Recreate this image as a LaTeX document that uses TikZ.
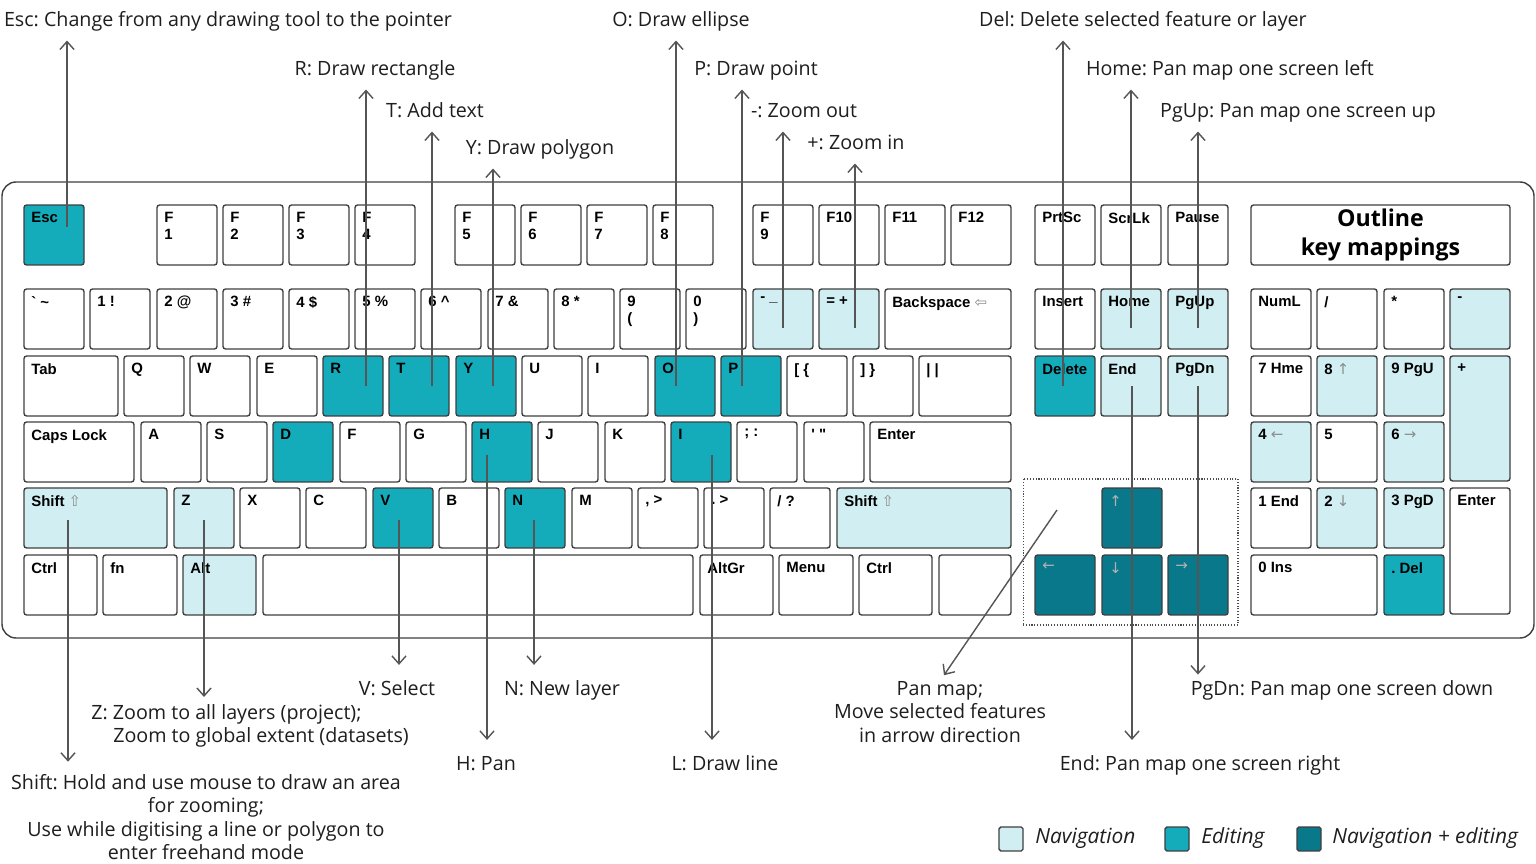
\documentclass[tikz,border=0pt]{standalone}
\usepackage{fontspec}
\setmainfont{Open Sans}
\newfontfamily\keyfont{Liberation Sans}
\newfontfamily\symfont{DejaVu Sans}
\usetikzlibrary{arrows.meta,positioning,calc}
\frenchspacing

\definecolor{cNav}{HTML}{D1EFF3}
\definecolor{cEdit}{HTML}{14ACBB}
\definecolor{cBoth}{HTML}{09788A}
\definecolor{keyLine}{HTML}{3F3F3F}
\definecolor{lineC}{HTML}{555555}
\definecolor{txtC}{HTML}{1E1E1E}

% small arrow glyphs on the keys
\newcommand{\kbsym}[1]{{\symfont\mdseries\color{black!45}#1}}
\newcommand{\kbsymlt}[1]{{\symfont\mdseries\color{white!70!black}#1}}

\tikzset{
    key/.style={draw=keyLine, line width=0.8pt, rounded corners=1.5pt, minimum height=1.2cm, inner sep=0pt, outer sep=0pt},
    keylabel/.style={anchor=north west, inner xsep=4pt, inner ysep=4pt, align=left, text=black,
        font=\keyfont\bfseries\fontsize{8.5}{9.4}\selectfont},
    board/.style={draw=keyLine, line width=0.8pt, rounded corners=8pt},
    padbox/.style={draw=black!70, densely dotted, line width=0.6pt, inner sep=0pt},
    note/.style={font=\fontsize{11.2}{13.3}\selectfont, text=txtC, inner sep=0pt, align=center},
    note1/.style={note, text height=0.75em, text depth=0.25em},
    callout/.style={draw=lineC, line width=0.8pt, -{Straight Barb[length=4.5pt,width=8pt]}},
    callup/.style={callout, shorten >=5pt},
    calldown/.style={callout, shorten >=10pt},
    legbox/.style={key, minimum width=0.48cm, minimum height=0.48cm, rounded corners=1pt},
    legtext/.style={font=\itshape\fontsize{11.9}{13}\selectfont, text=txtC, inner sep=0pt, text height=0.75em, text depth=0.25em}
}

\begin{document}
\begin{tikzpicture}[x=0.02cm, y=-0.02cm]
    \useasboundingbox (0,0) rectangle (1536,864);
    \fill[white] (0,0) rectangle (1536,864);

    % Keyboard frame
    \draw[board] (2,182) rectangle (1534,638);

    % Function row
    \foreach \x/\w/\col/\nm/\lab in {24/60/cEdit/kEsc/Esc, 157/60/white/kFa/{F\\1}, 223/60/white/kFb/{F\\2},
        289/60/white/kFc/{F\\3}, 355/60/white/kFd/{F\\4}, 455/60/white/kFe/{F\\5}, 521/60/white/kFf/{F\\6},
        587/60/white/kFg/{F\\7}, 653/60/white/kFh/{F\\8}, 753/60/white/kFi/{F\\9}, 819/60/white/kFj/F10,
        885/60/white/kFk/F11, 951/60/white/kFl/F12, 1035/60/white/kPrt/PrtSc, 1101/60/white/kScr/ScrLk,
        1168/60/white/kPause/Pause}
        \node[key, fill=\col, minimum width=\w*0.02cm, label={[keylabel]north west:{\lab}}] (\nm) at (\x+\w/2,235) {};

    % Number row
    \foreach \x/\w/\col/\nm/\lab in {24/60/white/kGrave/{` \textasciitilde}, 90/60/white/kOne/{1 !},
        157/60/white/kTwo/{2 @}, 223/60/white/kThree/{3 \#}, 289/60/white/kFour/{4 \$}, 355/60/white/kFive/{5 \%},
        421/60/white/kSix/{6 \textasciicircum}, 488/60/white/kSeven/{7 \&}, 554/60/white/kEight/{8 *},
        620/60/white/kNine/{9\\(}, 686/60/white/kZero/{0\\)}, 753/60/cNav/kMin/{- \_}, 819/60/cNav/kEq/{= +},
        885/126/white/kBack/{Backspace \kbsym{⇦}}, 1035/60/white/kIns/Insert, 1101/60/cNav/kHome/Home,
        1168/60/cNav/kPgUp/PgUp, 1251/60/white/kNumL/NumL, 1317/60/white/kDiv/{/}, 1384/60/white/kMul/{*},
        1450/60/cNav/kSub/{-}}
        \node[key, fill=\col, minimum width=\w*0.02cm, label={[keylabel]north west:{\lab}}] (\nm) at (\x+\w/2,319) {};

    % Top letter row
    \foreach \x/\w/\col/\nm/\lab in {24/94/white/kTab/Tab, 124/60/white/kQ/Q, 190/60/white/kW/W, 257/60/white/kE/E,
        323/60/cEdit/kR/R, 389/60/cEdit/kT/T, 456/60/cEdit/kY/Y, 522/60/white/kU/U, 588/60/white/kI/I,
        655/60/cEdit/kO/O, 721/60/cEdit/kP/P, 787/60/white/kLBr/{[ \{}, 853/60/white/kRBr/{] \}},
        919/92/white/kPipe/{| |}, 1035/60/cEdit/kDel/Delete, 1101/60/cNav/kEnd/End, 1168/60/cNav/kPgDn/PgDn,
        1251/60/white/kNSeven/{7 Hme}, 1317/60/cNav/kNEight/{8 \kbsym{↑}}, 1384/60/cNav/kNNine/{9 PgU}}
        \node[key, fill=\col, minimum width=\w*0.02cm, label={[keylabel]north west:{\lab}}] (\nm) at (\x+\w/2,386) {};

    % Home row
    \foreach \x/\w/\col/\nm/\lab in {24/110/white/kCaps/{Caps Lock}, 141/60/white/kA/A, 207/60/white/kS/S,
        273/60/cEdit/kD/D, 340/60/white/kF/F, 406/60/white/kG/G, 472/60/cEdit/kH/H, 538/60/white/kJ/J,
        605/60/white/kK/K, 671/60/cEdit/kL/I, 737/60/white/kSemi/{; :}, 804/60/white/kQuote/{' "},
        870/141/white/kEnter/Enter, 1251/60/cNav/kNFour/{4 \kbsym{←}}, 1317/60/white/kNFive/5,
        1384/60/cNav/kNSix/{6 \kbsym{→}}}
        \node[key, fill=\col, minimum width=\w*0.02cm, label={[keylabel]north west:{\lab}}] (\nm) at (\x+\w/2,452) {};

    % Bottom letter row
    \foreach \x/\w/\col/\nm/\lab in {24/143/cNav/kShL/{Shift \kbsym{⇧}}, 174/60/cNav/kZ/Z, 240/60/white/kX/X,
        306/60/white/kC/C, 373/60/cEdit/kV/V, 439/60/white/kB/B, 505/60/cEdit/kN/N, 572/60/white/kM/M,
        638/60/white/kComma/{, >}, 704/60/white/kDot/{. >}, 770/60/white/kSlash/{/ ?},
        837/174/cNav/kShR/{Shift \kbsym{⇧}}, 1102/60/cBoth/kUp/{\kbsymlt{↑}}, 1251/60/white/kNOne/{1 End},
        1317/60/cNav/kNTwo/{2 \kbsym{↓}}, 1384/60/cNav/kNThree/{3 PgD}}
        \node[key, fill=\col, minimum width=\w*0.02cm, label={[keylabel]north west:{\lab}}] (\nm) at (\x+\w/2,518) {};

    % Space row
    \foreach \x/\w/\col/\nm/\lab in {24/73/white/kCtrlL/Ctrl, 103/74/white/kFn/fn, 183/73/cNav/kAlt/Alt,
        263/430/white/kSpace/{}, 700/73/white/kAltGr/AltGr, 779/74/white/kMenu/Menu, 859/73/white/kCtrlR/Ctrl,
        939/72/white/kBlank/{}, 1035/60/cBoth/kLeft/{\kbsymlt{←}}, 1102/60/cBoth/kDown/{\kbsymlt{↓}},
        1168/60/cBoth/kRight/{\kbsymlt{→}}, 1251/126/white/kNZero/{0 Ins}, 1384/60/cEdit/kNDot/{. Del}}
        \node[key, fill=\col, minimum width=\w*0.02cm, label={[keylabel]north west:{\lab}}] (\nm) at (\x+\w/2,585) {};

    % Tall keypad keys
    \node[key, fill=cNav, minimum width=1.2cm, minimum height=2.5cm, label={[keylabel]north west:+}] (kNPlus) at (1480,418.5) {};
    \node[key, fill=white, minimum width=1.2cm, minimum height=2.52cm, label={[keylabel]north west:Enter}] (kNEnter) at (1480,551) {};

    % Title key
    \node[key, fill=white, minimum width=5.18cm, align=center, font=\bfseries\fontsize{13.2}{16}\selectfont] (title) at (1380.5,235) {Outline\\key mappings};

    % Arrow pad frame
    \node[padbox, minimum width=4.3cm, minimum height=2.92cm] (arrowpad) at (1130.5,552) {};

    % Annotations above
    \node[note1, anchor=base] (escT) at (228,27) {Esc: Change from any drawing tool to the pointer};
    \node[note1, anchor=base] (rT) at (375,76) {R: Draw rectangle};
    \node[note1, anchor=base] (tT) at (435,118) {T: Add text};
    \node[note1, anchor=base] (yT) at (540,155) {Y: Draw polygon};
    \node[note1, anchor=base] (oT) at (681,27) {O: Draw ellipse};
    \node[note1, anchor=base] (pT) at (756,76) {P: Draw point};
    \node[note1, anchor=base] (minT) at (804,118) {-: Zoom out};
    \node[note1, anchor=base] (plusT) at (856,150) {+: Zoom in};
    \node[note1, anchor=base] (delT) at (1143,27) {Del: Delete selected feature or layer};
    \node[note1, anchor=base] (homeT) at (1230,76) {Home: Pan map one screen left};
    \node[note1, anchor=base] (pgupT) at (1298,118) {PgUp: Pan map one screen up};

    % Annotations below
    \node[note1, anchor=base] (vT) at (397,696) {V: Select};
    \node[note1, anchor=base] (nT) at (562,696) {N: New layer};
    \node[note1, anchor=base] (hT) at (486,771) {H: Pan};
    \node[note1, anchor=base] (lT) at (725,771) {L: Draw line};
    \node[note1, anchor=base] (endT) at (1200,771) {End: Pan map one screen right};
    \node[note1, anchor=base] (pgdnT) at (1342,696) {PgDn: Pan map one screen down};
    \node[note, anchor=north west, align=left] (zT) at (91,704) {Z: Zoom to all layers (project);\\\hspace*{12.5pt}Zoom to global extent (datasets)};
    \node[note, anchor=north] (shiftT) at (206,774) {Shift: Hold and use mouse to draw an area\\for zooming;\\Use while digitising a line or polygon to\\enter freehand mode};
    \node[note, anchor=north] (panT) at (940,681) {Pan map;\\Move selected features\\in arrow direction};

    % Start points on the keys
    \coordinate (escA) at ($(kEsc)+(13,-8)$);
    \coordinate (rA) at ($(kR)+(13,0)$);
    \coordinate (tA) at ($(kT)+(13,0)$);
    \coordinate (yA) at ($(kY)+(7,0)$);
    \coordinate (oA) at ($(kO)+(-9,0)$);
    \coordinate (pA) at ($(kP)+(-9,0)$);
    \coordinate (minA) at ($(kMin)+(0,9)$);
    \coordinate (plusA) at ($(kEq)+(6,9)$);
    \coordinate (delA) at ($(kDel)+(-2,0)$);
    \coordinate (homeA) at ($(kHome)+(0,9)$);
    \coordinate (pgupA) at ($(kPgUp)+(0,9)$);
    \coordinate (shiftA) at ($(kShL)+(-27.5,2)$);
    \coordinate (zA) at ($(kZ)+(0,2)$);
    \coordinate (vA) at ($(kV)+(-4,2)$);
    \coordinate (hA) at ($(kH)+(-15,3)$);
    \coordinate (nA) at ($(kN)+(-1,2)$);
    \coordinate (lA) at ($(kL)+(11,3)$);
    \coordinate (panA) at ($(arrowpad)+(-73.5,-42)$);
    \coordinate (endA) at ($(kEnd)+(1,0)$);
    \coordinate (pgdnA) at ($(kPgDn)+(0,0)$);

    % Callout arrows
    \draw[callup] (escA) -- (escA |- escT.south);
    \draw[callup] (rA) -- (rA |- rT.south);
    \draw[callup] (tA) -- (tA |- tT.south);
    \draw[callup] (yA) -- (yA |- yT.south);
    \draw[callup] (oA) -- (oA |- oT.south);
    \draw[callup] (pA) -- (pA |- pT.south);
    \draw[callup] (minA) -- (minA |- minT.south);
    \draw[callup] (plusA) -- (plusA |- plusT.south);
    \draw[callup] (delA) -- (delA |- delT.south);
    \draw[callup] (homeA) -- (homeA |- homeT.south);
    \draw[callup] (pgupA) -- (pgupA |- pgupT.south);
    \draw[calldown] (vA) -- (vA |- vT.north);
    \draw[calldown] (nA) -- (nA |- nT.north);
    \draw[calldown] (hA) -- (hA |- hT.north);
    \draw[calldown] (lA) -- (lA |- lT.north);
    \draw[calldown] (endA) -- (endA |- endT.north);
    \draw[callout, shorten >=4.5pt] (pgdnA) -- (pgdnA |- pgdnT.north);
    \draw[callout, shorten >=4pt] (zA) -- (zA |- zT.north);
    \draw[callout, shorten >=7pt] (shiftA) -- (shiftA |- shiftT.north);
    \draw[callout, shorten >=4pt] (panA) -- (panT.north);

    % Legend
    \node[legbox, fill=cNav] (legNav) at (1011,839) {};
    \node[legtext, right=0.24cm of legNav] (legNavT) {Navigation};
    \node[legbox, fill=cEdit] (legEdit) at (1177,839) {};
    \node[legtext, right=0.24cm of legEdit] (legEditT) {Editing};
    \node[legbox, fill=cBoth] (legBoth) at (1309,839) {};
    \node[legtext, right=0.22cm of legBoth] (legBothT) {Navigation + editing};
\end{tikzpicture}
\end{document}
